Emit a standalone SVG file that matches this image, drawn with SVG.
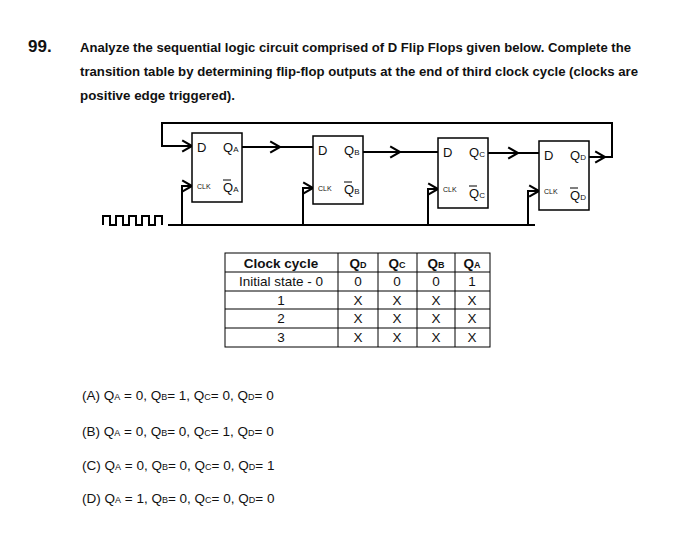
<svg xmlns="http://www.w3.org/2000/svg" width="700" height="557" viewBox="0 0 700 557">
<defs><style>
.t{font-family:"Liberation Sans",Arial,sans-serif;fill:#111}
.b{font-weight:bold}
.w{fill:none;stroke:#000;stroke-width:2}
.ff{fill:#fff;stroke:#000;stroke-width:1.5}
.s{font-size:13px}
.k{font-size:7px}
</style>
<marker id="ar" viewBox="0 0 10 10" refX="8" refY="5" markerWidth="7" markerHeight="7" orient="auto"><path d="M1 1L8 5L1 9" fill="none" stroke="#000" stroke-width="1.5"/></marker>
</defs>
<rect width="700" height="557" fill="#fff"/>
<text class="t b" x="28" y="52" font-size="17">99.</text>
<text class="t b" font-size="13.5"><tspan x="80" y="52" textLength="551" lengthAdjust="spacingAndGlyphs">Analyze the sequential logic circuit comprised of D Flip Flops given below. Complete the</tspan><tspan x="80" y="76" textLength="558" lengthAdjust="spacingAndGlyphs">transition table by determining flip-flop outputs at the end of third clock cycle (clocks are</tspan><tspan x="80" y="100" textLength="155" lengthAdjust="spacingAndGlyphs">positive edge triggered).</tspan></text>
<g id="connectors">
<path class="w" d="M603 157H612V123H162V146H192" marker-end="url(#ar)"/>
<path class="w" d="M242 147H313"/><path class="w" d="M242 147H280" marker-end="url(#ar)"/>
<path class="w" d="M363 152H438"/><path class="w" d="M363 152H400" marker-end="url(#ar)"/>
<path class="w" d="M488 153H539"/><path class="w" d="M488 153H518" marker-end="url(#ar)"/>
<path class="w" d="M589 157H605" marker-end="url(#ar)"/>
<path class="w" d="M103 225V216H110V225H116V216H123V225H129V216H136V225H142V216H149V225H155V216H162V225"/>
<path class="w" d="M168 225H535"/>
<path class="w" d="M182 225V186H192" marker-end="url(#ar)"/>
<path class="w" d="M303 225V188H313" marker-end="url(#ar)"/>
<path class="w" d="M428 225V189H438" marker-end="url(#ar)"/>
<path class="w" d="M528 225V191H539" marker-end="url(#ar)"/>
</g>
<g id="ffA"><rect class="ff" x="192" y="133" width="50" height="69"/><text class="t s" x="197" y="152">D</text><text class="t s" x="223" y="152">Q<tspan font-size="8">A</tspan></text><text class="t k" x="197" y="189">CLK</text><text class="t s" x="223" y="192">Q<tspan font-size="8">A</tspan></text><path d="M223 180H231" stroke="#000"/></g>
<g id="ffB"><rect class="ff" x="313" y="136" width="50" height="68"/><text class="t s" x="318" y="155">D</text><text class="t s" x="344" y="155">Q<tspan font-size="8">B</tspan></text><text class="t k" x="318" y="191">CLK</text><text class="t s" x="344" y="194">Q<tspan font-size="8">B</tspan></text><path d="M344 182H352" stroke="#000"/></g>
<g id="ffC"><rect class="ff" x="438" y="138" width="50" height="70"/><text class="t s" x="443" y="157">D</text><text class="t s" x="469" y="157">Q<tspan font-size="8">C</tspan></text><text class="t k" x="443" y="192">CLK</text><text class="t s" x="469" y="198">Q<tspan font-size="8">C</tspan></text><path d="M469 186H477" stroke="#000"/></g>
<g id="ffD"><rect class="ff" x="539" y="141" width="50" height="69"/><text class="t s" x="544" y="160">D</text><text class="t s" x="570" y="160">Q<tspan font-size="8">D</tspan></text><text class="t k" x="544" y="194">CLK</text><text class="t s" x="570" y="200">Q<tspan font-size="8">D</tspan></text><path d="M570 188H578" stroke="#000"/></g>
<g id="table" stroke="#000" stroke-width="1">
<rect x="225" y="253" width="265" height="94" fill="none"/>
<path d="M225 272H490M225 291H490M225 309H490M225 328H490M338 253V347M378 253V347M417 253V347M455 253V347"/>
<g stroke="none" font-size="13.5" class="t" text-anchor="middle">
<text x="281" y="268" class="b">Clock cycle</text><text x="358" y="268" class="b">Q<tspan font-size="9">D</tspan></text><text x="397" y="268" class="b">Q<tspan font-size="9">C</tspan></text><text x="436" y="268" class="b">Q<tspan font-size="9">B</tspan></text><text x="472" y="268" class="b">Q<tspan font-size="9">A</tspan></text>
<text x="281" y="286">Initial state - 0</text><text x="358" y="286">0</text><text x="397" y="286">0</text><text x="436" y="286">0</text><text x="472" y="286">1</text>
<text x="281" y="305">1</text><text x="358" y="305">X</text><text x="397" y="305">X</text><text x="436" y="305">X</text><text x="472" y="305">X</text>
<text x="281" y="323">2</text><text x="358" y="323">X</text><text x="397" y="323">X</text><text x="436" y="323">X</text><text x="472" y="323">X</text>
<text x="281" y="342">3</text><text x="358" y="342">X</text><text x="397" y="342">X</text><text x="436" y="342">X</text><text x="472" y="342">X</text>
</g></g>
<g class="t" font-size="13.5">
<text x="82" y="400">(A) Q<tspan font-size="9">A</tspan> = 0, Q<tspan font-size="9">B</tspan>= 1, Q<tspan font-size="9">C</tspan>= 0, Q<tspan font-size="9">D</tspan>= 0</text>
<text x="82" y="436">(B) Q<tspan font-size="9">A</tspan> = 0, Q<tspan font-size="9">B</tspan>= 0, Q<tspan font-size="9">C</tspan>= 1, Q<tspan font-size="9">D</tspan>= 0</text>
<text x="82" y="470">(C) Q<tspan font-size="9">A</tspan> = 0, Q<tspan font-size="9">B</tspan>= 0, Q<tspan font-size="9">C</tspan>= 0, Q<tspan font-size="9">D</tspan>= 1</text>
<text x="82" y="503">(D) Q<tspan font-size="9">A</tspan> = 1, Q<tspan font-size="9">B</tspan>= 0, Q<tspan font-size="9">C</tspan>= 0, Q<tspan font-size="9">D</tspan>= 0</text>
</g>
</svg>
